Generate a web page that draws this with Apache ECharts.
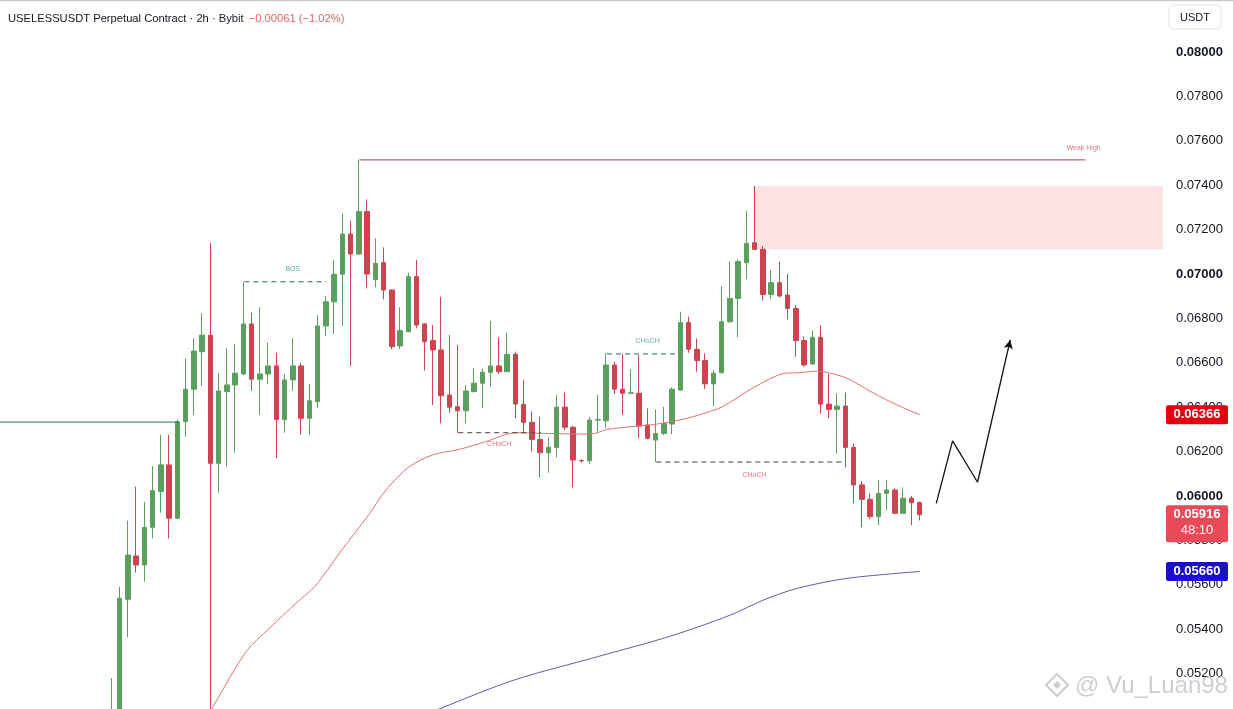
<!DOCTYPE html>
<html><head><meta charset="utf-8">
<script src="https://cdn.jsdelivr.net/npm/echarts/dist/echarts.min.js"></script>
<style>html,body{margin:0;padding:0;background:#fff;}#c{width:1233px;height:709px;}</style>
</head><body><div id="c"></div>
<script>
// ---- candle data (2h, first visible candle onward) ----
const opens  = [0.0495,0.0498,0.05535,0.05730,0.05689,0.05859,0.06020,0.06140,0.05900,0.06335,0.06481,0.06650,0.06724,0.06147,0.06470,0.06500,0.06550,0.06775,0.06526,0.06550,0.06586,0.06345,0.06523,0.06586,0.06350,0.06425,
  0.06766,0.06875,0.06999,0.07180,0.07090,0.07281,0.06975,0.07051,0.06928,0.06676,0.06740,0.06988,0.06775,0.06700,0.06658,0.06455,0.06402,0.06384,0.06470,0.06508,0.06557,0.06586,0.06560,0.06639,0.06413,0.06332,
  0.06255,0.06195,0.06219,0.06400,0.06310,0.06160,0.06159,0.06342,0.06339,0.06590,0.06481,0.06463,0.06463,0.06320,0.06252,0.06282,0.06324,0.06477,0.06781,0.06661,0.06610,0.06505,0.06555,0.06785,0.06890,0.07051,
  0.07141,0.07111,0.06908,0.06961,0.06905,0.06845,0.06700,0.06595,0.06715,0.06414,0.06390,0.06405,0.06219,0.06050,0.05985,0.05907,0.06012,0.06027,0.05922,0.05990,0.05970];
const closes = [0.0503,0.05539,0.05734,0.05689,0.05859,0.06024,0.06140,0.05900,0.06335,0.06481,0.06653,0.06724,0.06147,0.06473,0.06500,0.06553,0.06775,0.06526,0.06550,0.06586,0.06345,0.06523,0.06586,0.06350,0.06429,0.06766,
  0.06875,0.06999,0.07180,0.07090,0.07281,0.07000,0.07048,0.06928,0.06673,0.06745,0.06988,0.06770,0.06695,0.06658,0.06452,0.06400,0.06384,0.06473,0.06508,0.06557,0.06586,0.06560,0.06638,0.06414,0.06332,0.06255,
  0.06195,0.06219,0.06400,0.06310,0.06162,0.06158,0.06342,0.06345,0.06590,0.06481,0.06463,0.06465,0.06315,0.06260,0.06282,0.06327,0.06481,0.06781,0.06661,0.06610,0.06505,0.06553,0.06785,0.06890,0.07056,0.07138,
  0.07111,0.06908,0.06961,0.06901,0.06845,0.06700,0.06590,0.06715,0.06414,0.06390,0.06405,0.06219,0.06050,0.05985,0.05907,0.06012,0.06027,0.05922,0.05990,0.05970,0.05916];
const lows   = [0.0490,0.0495,0.05363,0.05655,0.05614,0.05809,0.05925,0.05809,0.05895,0.06267,0.06365,0.06495,0.0490,0.06015,0.06132,0.06195,0.06545,0.06474,0.06365,0.06505,0.06170,0.06285,0.06474,0.06275,0.06275,0.06395,
  0.06721,0.06730,0.06766,0.06586,0.07085,0.06935,0.06940,0.06886,0.06661,0.06662,0.06738,0.06755,0.06565,0.06410,0.06327,0.06375,0.06285,0.06327,0.06468,0.06395,0.06493,0.06550,0.06558,0.06350,0.06290,0.06200,
  0.06084,0.06105,0.06174,0.06297,0.06039,0.06150,0.06144,0.06290,0.06305,0.06459,0.06365,0.06460,0.06260,0.06255,0.06153,0.06275,0.06279,0.06475,0.06645,0.06560,0.06481,0.06405,0.06553,0.06781,0.06715,0.06976,
  0.07108,0.06880,0.06886,0.06895,0.06796,0.06627,0.06582,0.06590,0.06372,0.06350,0.06192,0.06129,0.05967,0.05859,0.05895,0.05869,0.05937,0.05920,0.05920,0.05869,0.05890];
const highs  = [0.0518,0.05591,0.05889,0.06042,0.05974,0.06135,0.06275,0.06275,0.06345,0.06620,0.06710,0.06823,0.07141,0.06553,0.06665,0.06683,0.06965,0.06826,0.06850,0.06691,0.06645,0.06550,0.06710,0.06600,0.06505,0.06815,
  0.06901,0.07063,0.07273,0.07240,0.07514,0.07336,0.07161,0.07120,0.06930,0.06850,0.07006,0.07063,0.06778,0.06770,0.06898,0.06725,0.06680,0.06500,0.06575,0.06575,0.06788,0.06715,0.06736,0.06650,0.06523,0.06380,
  0.06357,0.06264,0.06455,0.06466,0.06316,0.06165,0.06357,0.06455,0.06643,0.06605,0.06640,0.06571,0.06635,0.06395,0.06390,0.06402,0.06490,0.06830,0.06808,0.06710,0.06643,0.06568,0.06946,0.07056,0.07066,0.07285,
  0.07396,0.07126,0.07018,0.07056,0.07000,0.06860,0.06718,0.06745,0.06770,0.06550,0.06463,0.06466,0.06237,0.06068,0.06012,0.06072,0.06072,0.06035,0.06039,0.06000,0.05975];

// ---- moving averages: [slot index, price] ----
const maRedPts = [[24.5,0.04995],[25.45,0.05059],[29.35,0.05299],[32.12,0.05403],[35.57,0.05523],[37.73,0.05595],[40.74,0.05747],[44.19,0.05915],[46.30,0.06027],[49.12,0.06132],[51.96,0.06185],[55.18,0.06210],[58.41,0.06245],[62.04,0.06285],[65.43,0.06282],[71.13,0.06279],[73.15,0.06300],[76.78,0.06315],[78.39,0.06320],[81.82,0.06342],[84.24,0.06365],[87.07,0.06402],[90.71,0.06485],[94.74,0.06553],[96.16,0.06555],[98.58,0.06562],[100.19,0.06553],[102.21,0.06530],[105.43,0.06463],[108.26,0.06410],[111,0.06366]];
const maBluePts = [[51.14,0.05014],[52.96,0.05044],[61.84,0.05171],[71.94,0.05276],[80.81,0.05369],[88.08,0.05464],[92.11,0.05532],[96.16,0.05584],[102.21,0.05629],[111,0.05660]];

// ---- drawn annotations: [slot index, price] ----
const greenLevel = [[-0.5,0.06333],[21.11,0.06333]];
const bosLine    = [[29.14,0.06965],[39.07,0.06965]];
const weakHigh   = [[43.07,0.07514],[131.07,0.07514]];
const choch1     = [[55.06,0.06285],[65.07,0.06285]];
const choch2     = [[73.10,0.06640],[81.66,0.06640]];
const choch3     = [[79.08,0.06153],[102.0,0.06153]];
const supplyZone = [[90.86,0.07396],[140.5,0.07113]];
const arrowPts   = [[113.02,0.05967],[115.0,0.06248],[118.03,0.06062],[121.99,0.06703]];
const noteTexts  = ['BOS','CHoCH','CHoCH','CHoCH','Weak High'];
const notePos    = [[35.0,0.07023],[60.02,0.06233],[78.03,0.06696],[90.98,0.06095],[130.89,0.07566]];
const yTickLabels = ['0.05200','0.05400','0.05600','0.05800','0.06000','0.06200','0.06400','0.06600','0.06800','0.07000','0.07200','0.07400','0.07600','0.07800','0.08000'];
const priceRange = [0.0504054, 0.0823423];
const countdown = '48:10';

const LEAD = 13, SLOTS = 141;
const UP = '#5a9f5e', DOWN = '#cc4450';
const TEAL = '#2f9a94', REDTXT = '#d9535b';

const slots = [], candleData = [];
for (let i = 0; i < SLOTS; i++) {
  slots.push(String(i));
  const k = i - LEAD;
  candleData.push(k >= 0 && k < opens.length ? [opens[k], closes[k], lows[k], highs[k]] : '-');
}
const noteColors = [TEAL, REDTXT, TEAL, REDTXT, REDTXT];

function seg(data, color, type, width) {
  return {type:'line', xAxisIndex:1, yAxisIndex:0, data:data, showSymbol:false, symbol:'none', silent:true,
    lineStyle:{color:color, width:width||1, type:type||'solid'}, z:3};
}

const chart = echarts.init(document.getElementById('c'));
const option = {
  animation:false,
  backgroundColor:'#ffffff',
  title:{
    left:3, top:5,
    text:'{a|USELESSUSDT Perpetual Contract · 2h · Bybit} {b|\u22120.00061 (\u22121.02%)}',
    textStyle:{fontWeight:'normal', rich:{
      a:{fontFamily:'Liberation Sans', fontSize:11.2, fontWeight:'normal', color:'#131722'},
      b:{fontFamily:'Liberation Sans', fontSize:11.2, fontWeight:'normal', color:'#e0656b'}
    }}
  },
  grid:{left:-1.5, top:0, width:1164.4, height:709},
  xAxis:[
    {type:'category', data:slots, show:false, boundaryGap:true},
    {type:'value', min:-0.5, max:SLOTS-0.5, show:false}
  ],
  yAxis:{
    type:'value', position:'right', min:priceRange[0], max:priceRange[1],
    splitNumber:16, minInterval:0.002, maxInterval:0.002,
    splitLine:{show:false}, axisLine:{show:false}, axisTick:{show:false},
    axisLabel:{
      margin:13, align:'left', showMinLabel:false, showMaxLabel:false,
      formatter:function(v){
        const s = v.toFixed(5);
        if (yTickLabels.indexOf(s) < 0) return '';
        const bold = Math.abs(v*100 - Math.round(v*100)) < 1e-7;
        return bold ? '{b|'+s+'}' : '{n|'+s+'}';
      },
      rich:{
        b:{fontFamily:'Liberation Sans', fontSize:13, fontWeight:'bold', color:'#131722'},
        n:{fontFamily:'Liberation Sans', fontSize:13, color:'#131722'}
      }
    }
  },
  series:[
    Object.assign(seg(weakHigh, '#a8434a', 'solid', 1), {
      z:1,
      markArea:{silent:true, itemStyle:{color:'#fce2e3'},
        data:[[{coord:supplyZone[0]},{coord:supplyZone[1]}]]}
    }),
    {type:'candlestick', xAxisIndex:0, yAxisIndex:0, data:candleData, barWidth:5, z:2,
      itemStyle:{color:UP, color0:DOWN, borderColor:UP, borderColor0:DOWN, borderWidth:1}},
    Object.assign(seg(maRedPts, '#e07272', 'solid', 1), {smooth:0.3}),
    Object.assign(seg(maBluePts, '#5d5ea6', 'solid', 1), {smooth:0.3}),
    seg(greenLevel, '#2b6e60', 'solid', 1),
    seg(bosLine, '#2c6862', [5,4], 1),
    seg(choch1, '#4a3a3a', [5,4], 1),
    seg(choch2, '#2c6862', [5,4], 1),
    seg(choch3, '#4a3a3a', [5,4], 1),
    Object.assign(seg(arrowPts.slice(0,3), '#111111', 'solid', 1.3), {
      markLine:{silent:true, symbol:['none','arrow'], symbolSize:[7,9],
        lineStyle:{color:'#111111', width:1.3, type:'solid'}, label:{show:false},
        data:[[{coord:arrowPts[2]},{coord:arrowPts[3]}]]}
    }),
    {type:'scatter', xAxisIndex:1, yAxisIndex:0, symbolSize:0, silent:true, z:4,
      data:notePos.map(function(p,i){return {value:p, name:noteTexts[i],
        label:{show:true, position:'inside', formatter:'{b}', fontFamily:'Liberation Sans', fontSize:7, color:noteColors[i]}};})}
  ]
};
chart.setOption(option);

const yPix = function(v){ return chart.convertToPixel({yAxisIndex:0}, v); };
const lastPrice = closes[closes.length-1];
const redLast = maRedPts[maRedPts.length-1][1];
const blueLast = maBluePts[maBluePts.length-1][1];
const tagX = 1166, tagW = 62;
function tag(v, bg, lines) {
  const y = yPix(v);
  const h = lines.length > 1 ? 37 : 19;
  const els = [{type:'rect', shape:{x:tagX, y:y-9.5, width:tagW, height:h, r:2}, style:{fill:bg}, z:10}];
  lines.forEach(function(t, i){
    els.push({type:'text', x:tagX+tagW/2, y:y+i*15.5, z:11,
      style:{text:t, fill:'#ffffff', font:(i===0?'bold ':'')+'13px "Liberation Sans"', align:'center', verticalAlign:'middle'}});
  });
  return els;
}
let g = [];
g.push({type:'line', shape:{x1:0, y1:0.5, x2:1233, y2:0.5}, style:{stroke:'#c9c9c9', lineWidth:1.5}, z:10});
g.push({type:'rect', shape:{x:1169, y:5, width:52, height:24, r:4}, style:{fill:'#fff', stroke:'#e0e3eb', lineWidth:1}, z:10});
g.push({type:'text', x:1195, y:17.5, z:11, style:{text:'USDT', fill:'#131722', font:'11px "Liberation Sans"', align:'center', verticalAlign:'middle'}});
g = g.concat(tag(redLast, '#e3000f', [redLast.toFixed(5)]));
g = g.concat(tag(lastPrice, '#e84a57', [lastPrice.toFixed(5), countdown]));
g = g.concat(tag(blueLast, '#1c10c6', [blueLast.toFixed(5)]));
// watermark
g.push({type:'polygon', shape:{points:[[1057,674],[1068,685],[1057,696],[1046,685]]}, style:{fill:'none', stroke:'rgba(170,170,170,0.6)', lineWidth:2}, z:1});
g.push({type:'polygon', shape:{points:[[1057,681],[1061,685],[1057,689],[1053,685]]}, style:{fill:'rgba(170,170,170,0.6)'}, z:1});
g.push({type:'text', x:1075, y:686, z:1, style:{text:'@ Vu_Luan98', fill:'rgba(165,165,165,0.55)', font:'24px "Liberation Sans"', align:'left', verticalAlign:'middle'}});
chart.setOption({graphic:g});
</script>
</body></html>
